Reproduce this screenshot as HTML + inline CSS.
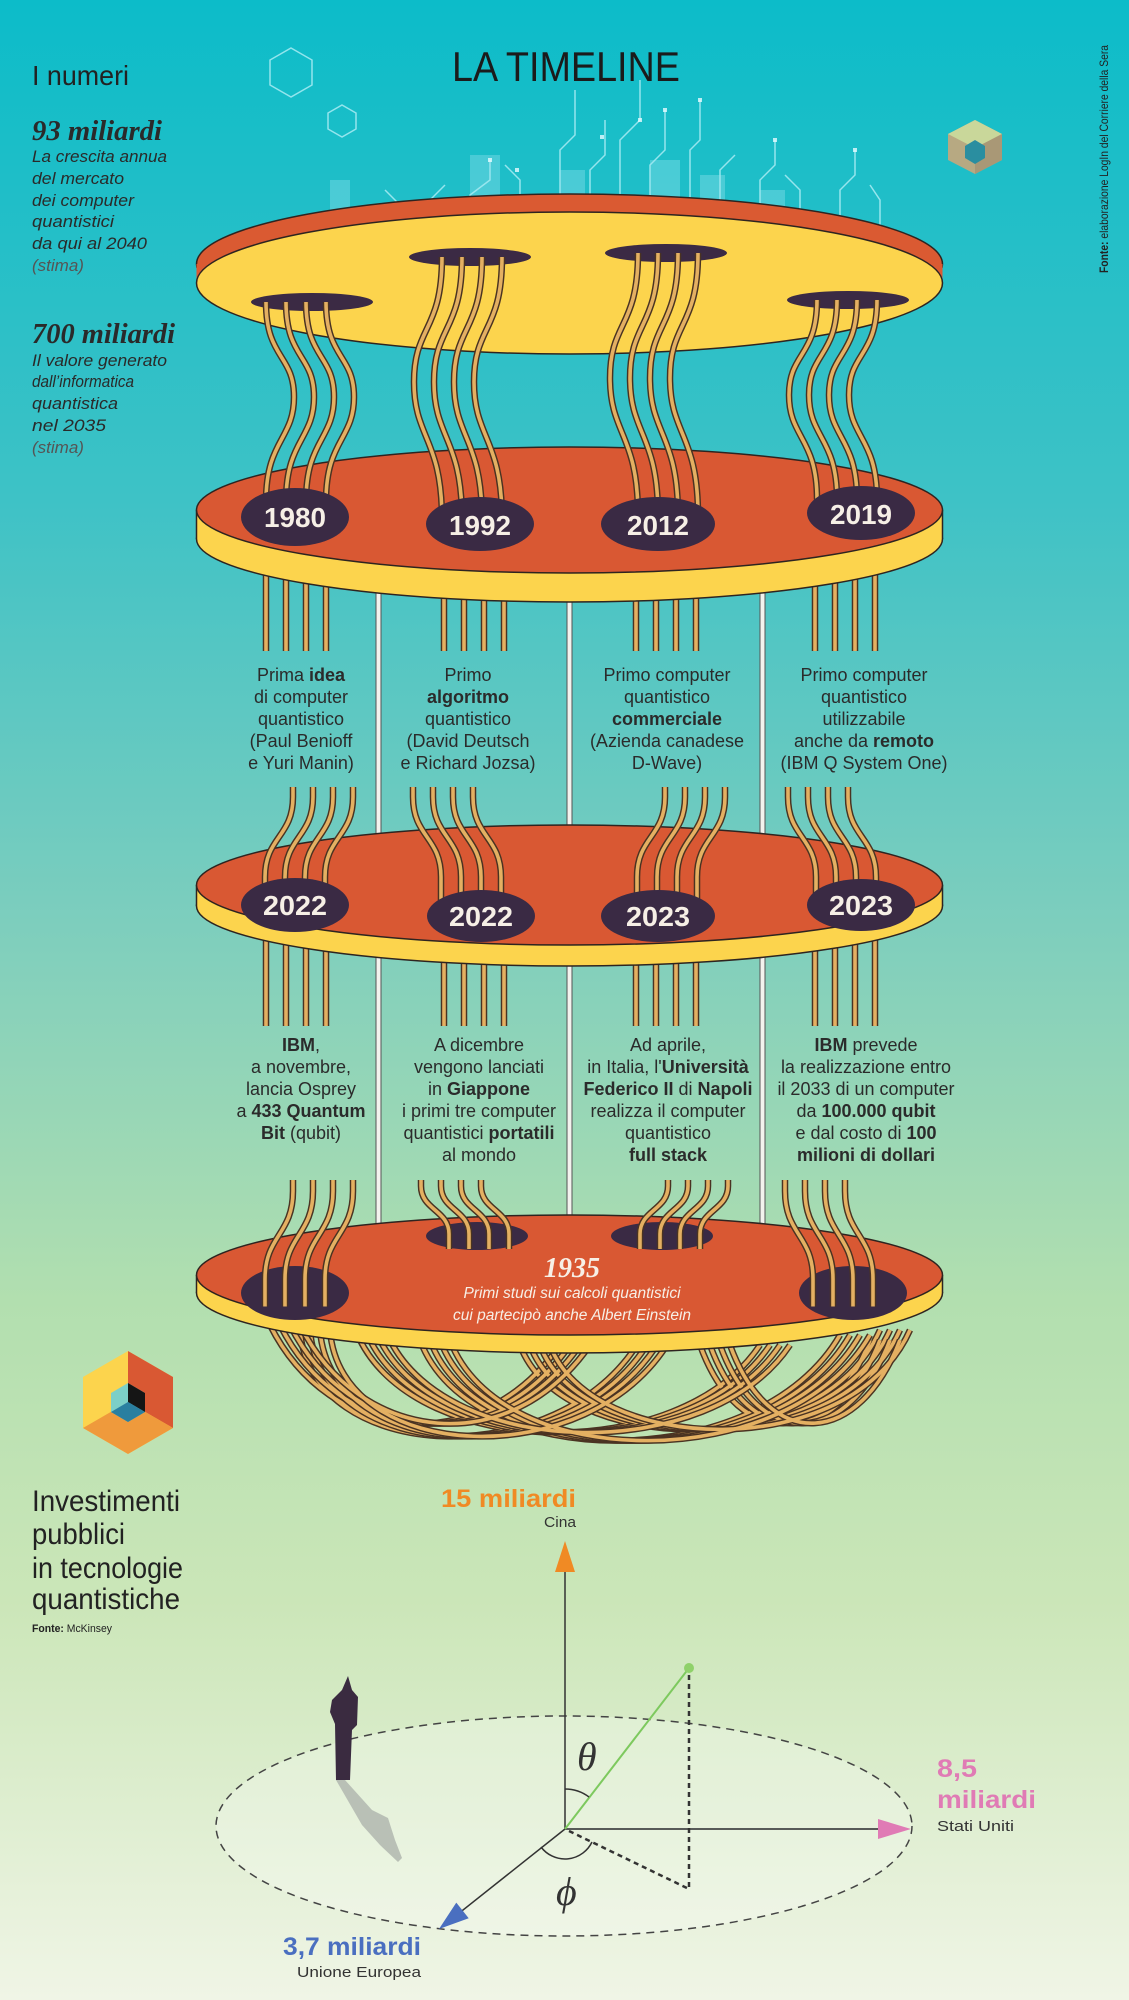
<!DOCTYPE html>
<html><head><meta charset="utf-8">
<style>
html,body{margin:0;padding:0;}
body{width:1129px;height:2000px;overflow:hidden;}
svg{display:block;}
.d{stroke:#4a3322;stroke-width:6.5;fill:none;}
.t{stroke:#e4b062;stroke-width:3.6;fill:none;}
.pl{stroke:#2e2420;stroke-width:1.5;}
text{font-family:"Liberation Sans",sans-serif;}
text.sf{font-family:"Liberation Serif",serif;}
.ct{font-size:18px;fill:#2b2b2b;text-anchor:middle;}
.yr{font-size:28px;font-weight:bold;fill:#f6efe6;text-anchor:middle;}
</style></head>
<body>
<svg width="1129" height="2000" viewBox="0 0 1129 2000" xmlns="http://www.w3.org/2000/svg">
<defs>
<linearGradient id="bg" x1="0" y1="0" x2="0" y2="1">
<stop offset="0" stop-color="#0cbcc9"/>
<stop offset="0.25" stop-color="#3ec2c6"/>
<stop offset="0.45" stop-color="#7acdbe"/>
<stop offset="0.65" stop-color="#b2dfaf"/>
<stop offset="0.8" stop-color="#cbe6b8"/>
<stop offset="1" stop-color="#f0f5e6"/>
</linearGradient>
<path id="wA" d="M0,0 C0,60 28,55 28,100 S0,145 0,210" vector-effect="non-scaling-stroke"/>
<path id="wB" d="M0,0 L0,10 C0,50 -28,50 -28,90 L-28,115" vector-effect="non-scaling-stroke"/>
<path id="wS" d="M0,0 L0,100" vector-effect="non-scaling-stroke"/>
<g id="bA"><use href="#wA" class="d"/><use href="#wA" class="t"/><use href="#wA" x="20" class="d"/><use href="#wA" x="20" class="t"/><use href="#wA" x="40" class="d"/><use href="#wA" x="40" class="t"/><use href="#wA" x="60" class="d"/><use href="#wA" x="60" class="t"/></g>
<g id="bB"><use href="#wB" class="d"/><use href="#wB" class="t"/><use href="#wB" x="20" class="d"/><use href="#wB" x="20" class="t"/><use href="#wB" x="40" class="d"/><use href="#wB" x="40" class="t"/><use href="#wB" x="60" class="d"/><use href="#wB" x="60" class="t"/></g>
<g id="bS"><use href="#wS" class="d"/><use href="#wS" class="t"/><use href="#wS" x="20" class="d"/><use href="#wS" x="20" class="t"/><use href="#wS" x="40" class="d"/><use href="#wS" x="40" class="t"/><use href="#wS" x="60" class="d"/><use href="#wS" x="60" class="t"/></g>
<g id="loops" fill="none">
<path d="M300,1330 C310,1465 560,1475 640,1340"/>
<path d="M420,1340 C470,1475 760,1475 840,1335"/>
<path d="M520,1345 C560,1455 820,1465 880,1330"/>
<path d="M270,1325 C330,1445 480,1460 560,1345"/>
<path d="M700,1345 C740,1455 830,1445 870,1340"/>
<path d="M360,1340 C420,1460 680,1465 760,1345"/>
</g>
</defs>
<rect width="1129" height="2000" fill="url(#bg)"/>

<g stroke="#bff3fa" stroke-width="1.5" fill="none" opacity="0.75">
<polygon points="291,48 312,60 312,85 291,97 270,85 270,60"/>
<polygon points="342,105 356,113 356,129 342,137 328,129 328,113"/>
<path d="M560,220 L560,150 L575,135 L575,90"/><path d="M590,225 L590,170 L605,155 L605,120"/>
<path d="M620,220 L620,140 L640,120 L640,80"/><path d="M650,225 L650,165 L665,150 L665,110"/>
<path d="M690,225 L690,150 L700,140 L700,100"/><path d="M720,222 L720,170 L735,155"/>
<path d="M520,225 L520,180 L505,165"/><path d="M470,228 L470,195 L490,180 L490,160"/>
<path d="M760,222 L760,180 L775,165 L775,140"/><path d="M800,225 L800,190 L785,175"/>
<path d="M840,225 L840,190 L855,175 L855,150"/><path d="M430,230 L430,200 L445,185"/>
<path d="M880,232 L880,200 L870,185"/><path d="M400,232 L400,205 L385,190"/>
</g>
<g fill="#9fe6f2" opacity="0.35">
<rect x="470" y="155" width="30" height="80"/><rect x="560" y="170" width="25" height="60"/>
<rect x="650" y="160" width="30" height="70"/><rect x="700" y="175" width="25" height="55"/>
<rect x="330" y="180" width="20" height="50"/><rect x="760" y="190" width="25" height="40"/>
</g>
<g fill="#e7fbff" opacity="0.8">
<rect x="515" y="168" width="4" height="4"/><rect x="600" y="135" width="4" height="4"/><rect x="638" y="118" width="4" height="4"/>
<rect x="663" y="108" width="4" height="4"/><rect x="698" y="98" width="4" height="4"/><rect x="773" y="138" width="4" height="4"/>
<rect x="853" y="148" width="4" height="4"/><rect x="488" y="158" width="4" height="4"/>
</g>

<polygon points="975,120 1002,134 1002,160 975,174 948,160 948,134" fill="#b7a982"/>
<polygon points="975,120 1002,134 975,148 948,134" fill="#c9d79a"/>
<polygon points="975,148 1002,134 1002,160 975,174" fill="#a99876"/>
<polygon points="975,140 985,146 985,158 975,164 965,158 965,146" fill="#2a8ea0"/>

<text x="32" y="85" font-size="28" fill="#222" textLength="97" lengthAdjust="spacingAndGlyphs">I numeri</text>
<text class="sf" x="32" y="140" font-style="italic" font-weight="bold" font-size="28" fill="#2a2a2a" textLength="130" lengthAdjust="spacingAndGlyphs">93 miliardi</text>
<g font-style="italic" font-size="17" fill="#2a2a2a">
<text x="32" y="162" textLength="135" lengthAdjust="spacingAndGlyphs">La crescita annua</text>
<text x="32" y="184" textLength="92" lengthAdjust="spacingAndGlyphs">del mercato</text>
<text x="32" y="206" textLength="102" lengthAdjust="spacingAndGlyphs">dei computer</text>
<text x="32" y="227" textLength="82" lengthAdjust="spacingAndGlyphs">quantistici</text>
<text x="32" y="249" textLength="115" lengthAdjust="spacingAndGlyphs">da qui al 2040</text>
<text x="32" y="271" fill="#555">(stima)</text>
</g>
<text class="sf" x="32" y="343" font-style="italic" font-weight="bold" font-size="28" fill="#2a2a2a" textLength="143" lengthAdjust="spacingAndGlyphs">700 miliardi</text>
<g font-style="italic" font-size="17" fill="#2a2a2a">
<text x="32" y="366" textLength="135" lengthAdjust="spacingAndGlyphs">Il valore generato</text>
<text x="32" y="387" textLength="102" lengthAdjust="spacingAndGlyphs">dall’informatica</text>
<text x="32" y="409" textLength="86" lengthAdjust="spacingAndGlyphs">quantistica</text>
<text x="32" y="431" textLength="74" lengthAdjust="spacingAndGlyphs">nel 2035</text>
<text x="32" y="453" fill="#555">(stima)</text>
</g>
<text x="452" y="81" font-size="42" fill="#1b1b1b" textLength="228" lengthAdjust="spacingAndGlyphs">LA TIMELINE</text>
<text transform="translate(1108,273) rotate(-90)" font-size="12" fill="#222" textLength="228" lengthAdjust="spacingAndGlyphs"><tspan font-weight="bold">Fonte:</tspan> elaborazione LogIn del Corriere della Sera</text>

<g fill="#f3f3ee" stroke="#555" stroke-width="1">
<rect x="376" y="590" width="5" height="640"/>
<rect x="567" y="590" width="5" height="640"/>
<rect x="760" y="590" width="5" height="640"/>
</g>
<use href="#bS" transform="translate(266,560) scale(1,0.91)"/>
<use href="#bS" transform="translate(444,560) scale(1,0.91)"/>
<use href="#bS" transform="translate(636,560) scale(1,0.91)"/>
<use href="#bS" transform="translate(815,560) scale(1,0.91)"/>
<use href="#bS" transform="translate(266,930) scale(1,0.96)"/>
<use href="#bS" transform="translate(444,930) scale(1,0.96)"/>
<use href="#bS" transform="translate(636,930) scale(1,0.96)"/>
<use href="#bS" transform="translate(815,930) scale(1,0.96)"/>
<use href="#loops" class="d" stroke-width="7"/><use href="#loops" class="t" stroke-width="4.5"/>
<use href="#loops" x="10" class="d" stroke-width="7"/><use href="#loops" x="10" class="t" stroke-width="4.5"/>
<use href="#loops" x="20" class="d" stroke-width="7"/><use href="#loops" x="20" class="t" stroke-width="4.5"/>
<use href="#loops" x="30" class="d" stroke-width="7"/><use href="#loops" x="30" class="t" stroke-width="4.5"/>

<ellipse cx="569.5" cy="264" rx="373" ry="70" fill="#da5a32" class="pl"/>
<rect x="196.5" y="264" width="746" height="19" fill="#da5a32"/>
<ellipse cx="569.5" cy="283" rx="373" ry="71" fill="#fcd44d" class="pl"/>
<g fill="#3b2a44">
<ellipse cx="312" cy="302" rx="61" ry="9"/>
<ellipse cx="470" cy="257" rx="61" ry="9"/>
<ellipse cx="666" cy="253" rx="61" ry="9"/>
<ellipse cx="848" cy="300" rx="61" ry="9"/>
</g>

<ellipse cx="569.5" cy="539" rx="373" ry="63" fill="#fcd44d" class="pl"/>
<rect x="196.5" y="510" width="746" height="29" fill="#fcd44d"/>
<line x1="196.5" y1="510" x2="196.5" y2="539" stroke="#2e2420" stroke-width="1.5"/>
<line x1="942.5" y1="510" x2="942.5" y2="539" stroke="#2e2420" stroke-width="1.5"/>
<ellipse cx="569.5" cy="510" rx="373" ry="63" fill="#d95833" class="pl"/>
<use href="#bA" transform="translate(266,302) scale(1,0.95)"/>
<use href="#bA" transform="translate(502,257) scale(-1,1.25)"/>
<use href="#bA" transform="translate(698,253) scale(-1,1.25)"/>
<use href="#bA" transform="translate(877,300) scale(-1,0.95)"/>
<g fill="#3a2a44">
<ellipse cx="295" cy="517" rx="54" ry="29"/>
<ellipse cx="480" cy="524" rx="54" ry="27"/>
<ellipse cx="658" cy="524" rx="57" ry="27"/>
<ellipse cx="861" cy="513" rx="54" ry="27"/>
</g>
<text class="yr" x="295" y="527" textLength="62" lengthAdjust="spacingAndGlyphs">1980</text>
<text class="yr" x="480" y="535" textLength="62" lengthAdjust="spacingAndGlyphs">1992</text>
<text class="yr" x="658" y="535" textLength="62" lengthAdjust="spacingAndGlyphs">2012</text>
<text class="yr" x="861" y="524" textLength="62" lengthAdjust="spacingAndGlyphs">2019</text>

<text class="ct" x="301" y="681">Prima <tspan font-weight="bold">idea</tspan></text>
<text class="ct" x="301" y="703">di computer</text>
<text class="ct" x="301" y="725">quantistico</text>
<text class="ct" x="301" y="747">(Paul Benioff</text>
<text class="ct" x="301" y="769">e Yuri Manin)</text>
<text class="ct" x="468" y="681">Primo</text>
<text class="ct" x="468" y="703" font-weight="bold">algoritmo</text>
<text class="ct" x="468" y="725">quantistico</text>
<text class="ct" x="468" y="747">(David Deutsch</text>
<text class="ct" x="468" y="769">e Richard Jozsa)</text>
<text class="ct" x="667" y="681">Primo computer</text>
<text class="ct" x="667" y="703">quantistico</text>
<text class="ct" x="667" y="725" font-weight="bold">commerciale</text>
<text class="ct" x="667" y="747">(Azienda canadese</text>
<text class="ct" x="667" y="769">D-Wave)</text>
<text class="ct" x="864" y="681">Primo computer</text>
<text class="ct" x="864" y="703">quantistico</text>
<text class="ct" x="864" y="725">utilizzabile</text>
<text class="ct" x="864" y="747">anche da <tspan font-weight="bold">remoto</tspan></text>
<text class="ct" x="864" y="769">(IBM Q System One)</text>

<ellipse cx="569.5" cy="906" rx="373" ry="60" fill="#fcd44d" class="pl"/>
<rect x="196.5" y="885" width="746" height="21" fill="#fcd44d"/>
<line x1="196.5" y1="885" x2="196.5" y2="906" stroke="#2e2420" stroke-width="1.5"/>
<line x1="942.5" y1="885" x2="942.5" y2="906" stroke="#2e2420" stroke-width="1.5"/>
<ellipse cx="569.5" cy="885" rx="373" ry="60" fill="#d95833" class="pl"/>
<use href="#bB" transform="translate(293,787)"/>
<use href="#bB" transform="translate(473,787) scale(-1,1)"/>
<use href="#bB" transform="translate(665,787)"/>
<use href="#bB" transform="translate(848,787) scale(-1,1)"/>
<g fill="#3a2a44">
<ellipse cx="295" cy="905" rx="54" ry="27"/>
<ellipse cx="481" cy="916" rx="54" ry="26"/>
<ellipse cx="658" cy="916" rx="57" ry="26"/>
<ellipse cx="861" cy="905" rx="54" ry="26"/>
</g>
<text class="yr" x="295" y="915" textLength="64" lengthAdjust="spacingAndGlyphs">2022</text>
<text class="yr" x="481" y="926" textLength="64" lengthAdjust="spacingAndGlyphs">2022</text>
<text class="yr" x="658" y="926" textLength="64" lengthAdjust="spacingAndGlyphs">2023</text>
<text class="yr" x="861" y="915" textLength="64" lengthAdjust="spacingAndGlyphs">2023</text>

<text class="ct" x="301" y="1051"><tspan font-weight="bold">IBM</tspan>,</text>
<text class="ct" x="301" y="1073">a novembre,</text>
<text class="ct" x="301" y="1095">lancia Osprey</text>
<text class="ct" x="301" y="1117">a <tspan font-weight="bold">433 Quantum</tspan></text>
<text class="ct" x="301" y="1139"><tspan font-weight="bold">Bit</tspan> (qubit)</text>
<text class="ct" x="479" y="1051">A dicembre</text>
<text class="ct" x="479" y="1073">vengono lanciati</text>
<text class="ct" x="479" y="1095">in <tspan font-weight="bold">Giappone</tspan></text>
<text class="ct" x="479" y="1117">i primi tre computer</text>
<text class="ct" x="479" y="1139">quantistici <tspan font-weight="bold">portatili</tspan></text>
<text class="ct" x="479" y="1161">al mondo</text>
<text class="ct" x="668" y="1051">Ad aprile,</text>
<text class="ct" x="668" y="1073">in Italia, l'<tspan font-weight="bold">Università</tspan></text>
<text class="ct" x="668" y="1095"><tspan font-weight="bold">Federico II</tspan> di <tspan font-weight="bold">Napoli</tspan></text>
<text class="ct" x="668" y="1117">realizza il computer</text>
<text class="ct" x="668" y="1139">quantistico</text>
<text class="ct" x="668" y="1161" font-weight="bold">full stack</text>
<text class="ct" x="866" y="1051"><tspan font-weight="bold">IBM</tspan> prevede</text>
<text class="ct" x="866" y="1073">la realizzazione entro</text>
<text class="ct" x="866" y="1095">il 2033 di un computer</text>
<text class="ct" x="866" y="1117">da <tspan font-weight="bold">100.000 qubit</tspan></text>
<text class="ct" x="866" y="1139">e dal costo di <tspan font-weight="bold">100</tspan></text>
<text class="ct" x="866" y="1161" font-weight="bold">milioni di dollari</text>

<ellipse cx="569.5" cy="1293" rx="373" ry="60" fill="#fcd44d" class="pl"/>
<rect x="196.5" y="1275" width="746" height="18" fill="#fcd44d"/>
<line x1="196.5" y1="1275" x2="196.5" y2="1293" stroke="#2e2420" stroke-width="1.5"/>
<line x1="942.5" y1="1275" x2="942.5" y2="1293" stroke="#2e2420" stroke-width="1.5"/>
<ellipse cx="569.5" cy="1275" rx="373" ry="60" fill="#d95833" class="pl"/>
<g fill="#3a2a44">
<ellipse cx="295" cy="1293" rx="54" ry="27"/>
<ellipse cx="477" cy="1236" rx="51" ry="14"/>
<ellipse cx="662" cy="1236" rx="51" ry="14"/>
<ellipse cx="853" cy="1293" rx="54" ry="27"/>
</g>
<use href="#bB" transform="translate(293,1180) scale(1,1.1)"/>
<use href="#bB" transform="translate(481,1180) scale(-1,0.6)"/>
<use href="#bB" transform="translate(668,1180) scale(1,0.6)"/>
<use href="#bB" transform="translate(845,1180) scale(-1,1.1)"/>
<text class="sf" x="572" y="1277" text-anchor="middle" font-style="italic" font-weight="bold" font-size="28" fill="#f7efe6">1935</text>
<text x="572" y="1298" text-anchor="middle" font-style="italic" font-size="15.5" fill="#f7efe6">Primi studi sui calcoli quantistici</text>
<text x="572" y="1320" text-anchor="middle" font-style="italic" font-size="15.5" fill="#f7efe6">cui partecipò anche Albert Einstein</text>

<polygon points="128,1351 173,1377 173,1428 128,1454 83,1428 83,1377" fill="#fcd44d"/>
<polygon points="128,1351 173,1377 173,1428 128,1402" fill="#d95833"/>
<polygon points="83,1428 128,1402 173,1428 128,1454" fill="#ef9a3c"/>
<polygon points="128,1383 145,1393 145,1412 128,1422 111,1412 111,1393" fill="#7ccfc7"/>
<polygon points="128,1383 145,1393 145,1412 128,1402" fill="#151515"/>
<polygon points="111,1412 128,1402 145,1412 128,1422" fill="#2a7fa0"/>

<g font-size="30" fill="#222">
<text x="32" y="1511" textLength="148" lengthAdjust="spacingAndGlyphs">Investimenti</text>
<text x="32" y="1544" textLength="93" lengthAdjust="spacingAndGlyphs">pubblici</text>
<text x="32" y="1578" textLength="151" lengthAdjust="spacingAndGlyphs">in tecnologie</text>
<text x="32" y="1609" textLength="148" lengthAdjust="spacingAndGlyphs">quantistiche</text>
</g>
<text x="32" y="1632" font-size="11" fill="#222" textLength="80" lengthAdjust="spacingAndGlyphs"><tspan font-weight="bold">Fonte:</tspan> McKinsey</text>

<ellipse cx="564" cy="1826" rx="348" ry="110" fill="#ffffff" fill-opacity="0.25" stroke="#444" stroke-width="1.5" stroke-dasharray="8,6"/>
<line x1="565" y1="1568" x2="565" y2="1829" stroke="#333" stroke-width="1.5"/>
<polygon points="565,1541 555,1572 575,1572" fill="#f08a24"/>
<line x1="565" y1="1829" x2="880" y2="1829" stroke="#444" stroke-width="1.8"/>
<polygon points="911,1829 878,1819 878,1839" fill="#e07bb5"/>
<line x1="565" y1="1829" x2="458" y2="1914" stroke="#333" stroke-width="1.5"/>
<polygon points="439,1929 468.7,1918.2 456.3,1902.6" fill="#4a6fc0"/>
<line x1="565" y1="1829" x2="689" y2="1668" stroke="#7dc95e" stroke-width="2"/>
<circle cx="689" cy="1668" r="5" fill="#8fd16a"/>
<line x1="689" y1="1675" x2="689" y2="1890" stroke="#333" stroke-width="2.5" stroke-dasharray="5,4"/>
<line x1="569" y1="1831" x2="689" y2="1889" stroke="#333" stroke-width="2.5" stroke-dasharray="5,4"/>
<path d="M565,1789 A40,40 0 0 1 589,1797" fill="none" stroke="#333" stroke-width="1.5"/>
<path d="M541,1847 A30,30 0 0 0 592,1842" fill="none" stroke="#333" stroke-width="1.5"/>
<text class="sf" x="577" y="1770" font-style="italic" font-size="40" fill="#333">θ</text>
<text class="sf" x="556" y="1905" font-style="italic" font-size="40" fill="#333">ϕ</text>

<polygon points="336,1780 345,1780 372,1810 388,1818 395,1840 402,1858 398,1862 380,1845 362,1825" fill="#b9c0b6"/>
<polygon points="348,1676 352,1690 358,1697 357,1725 352,1730 350,1780 336,1780 335,1724 330,1712 332,1700 342,1690" fill="#3a2b40"/>

<text x="576" y="1507" text-anchor="end" font-size="25" font-weight="bold" fill="#f08a24" textLength="135" lengthAdjust="spacingAndGlyphs">15 miliardi</text>
<text x="576" y="1527" text-anchor="end" font-size="15" fill="#333" textLength="32" lengthAdjust="spacingAndGlyphs">Cina</text>
<text x="937" y="1777" font-size="25" font-weight="bold" fill="#e07bb5" textLength="40" lengthAdjust="spacingAndGlyphs">8,5</text>
<text x="937" y="1808" font-size="25" font-weight="bold" fill="#e07bb5" textLength="99" lengthAdjust="spacingAndGlyphs">miliardi</text>
<text x="937" y="1831" font-size="15" fill="#333" textLength="77" lengthAdjust="spacingAndGlyphs">Stati Uniti</text>
<text x="421" y="1955" text-anchor="end" font-size="25" font-weight="bold" fill="#4a6fc0" textLength="138" lengthAdjust="spacingAndGlyphs">3,7 miliardi</text>
<text x="421" y="1977" text-anchor="end" font-size="15" fill="#333" textLength="124" lengthAdjust="spacingAndGlyphs">Unione Europea</text>
</svg>
</body></html>
